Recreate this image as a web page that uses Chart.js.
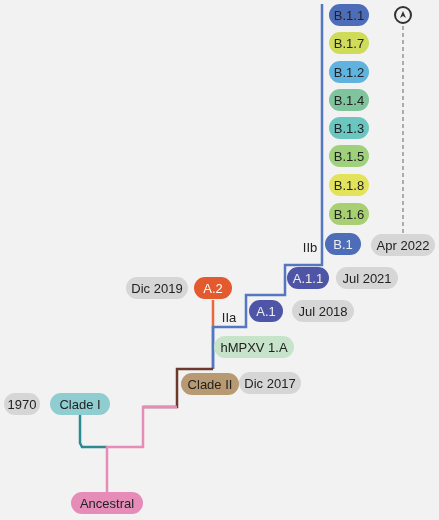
<!DOCTYPE html>
<html><head><meta charset="utf-8">
<script src="https://cdn.jsdelivr.net/npm/chart.js@4/dist/chart.umd.min.js"></script>
<style>html,body{margin:0;background:#f2f2f2}#wrap{width:439px;height:520px}</style>
</head><body><div id="wrap"><canvas id="chart"></canvas></div>
<script>
// ramas: [color, puntos x, puntos y]
const ramaColores = ["#e58cb8", "#2a8a90", "#6b3a2c", "#5577c0", "#e8683a", "#5577c0"];
const ramaX = [[107,107,143,143,177], [107,82,80,80], [143,177,177,213], [213,213,246,246,285,285,322,322], [213,213], [213,213]];
const ramaY = [[492,447,447,407,407], [447,447,443,415], [407,407,369,369], [369,327,327,295,295,265,265,4], [327,300], [369,327]];

// nodos
const nodos = ["Ancestral","Clade I","1970","Clade II","Dic 2017","hMPXV 1.A","A.2","Dic 2019","A.1","Jul 2018","A.1.1","Jul 2021","B.1","Apr 2022","B.1.6","B.1.8","B.1.5","B.1.3","B.1.4","B.1.2","B.1.7","B.1.1"];
const nodoX = [107,80,22,210,270,254,213,157,266,323,308,367,343,403,349,349,349,349,349,349,349,349];
const nodoY = [503,404,404,384,383,347,288,288,311,311,278,278,244,245,214,185,156,128,100,72,43,15];
const nodoAncho = [72,60,36,58,62,80,38,62,34,62,42,62,36,64,40,40,40,40,40,40,40,40];
const nodoColor = ["#e58cb8","#8fcdd0","#d6d6d6","#b89a72","#d6d6d6","#c7e3c9","#e25a2e","#d6d6d6","#4f55a6","#d6d6d6","#4f55a6","#d6d6d6","#4d6db8","#d6d6d6","#a8cf72","#e2e35a","#9fd07c","#6cc6c0","#7fc49c","#5fb3de","#cfdc5a","#4d6db8"];
const nodoTexto = ["#222","#222","#222","#222","#222","#222","#fff","#222","#eee","#222","#eee","#222","#eee","#222","#222","#222","#222","#222","#222","#222","#222","#222"];
const etiquetas = ["IIa","IIb"];
const etiquetaX = [229,310];
const etiquetaY = [318,248];

const datasets = ramaX.map((xs, i) => ({
  data: xs.map((x, j) => ({x: x, y: ramaY[i][j]})),
  borderColor: ramaColores[i], borderWidth: 2.5, pointRadius: 0, showLine: true, fill: false
}));
datasets.push({
  data: [{x: 403, y: 233}, {x: 403, y: 25}],
  borderColor: "#666", borderWidth: 1, borderDash: [4, 3], pointRadius: 0, showLine: true
});

const nodosPlugin = {
  id: "nodos",
  afterDatasetsDraw(c) {
    const ctx = c.ctx, sx = c.scales.x, sy = c.scales.y;
    ctx.save();
    ctx.font = "13px 'Liberation Sans', Arial, sans-serif";
    ctx.textAlign = "center"; ctx.textBaseline = "middle";
    nodos.forEach((t, i) => {
      const cx = sx.getPixelForValue(nodoX[i]), cy = sy.getPixelForValue(nodoY[i]);
      const w = nodoAncho[i], h = 22;
      ctx.fillStyle = nodoColor[i];
      ctx.beginPath();
      ctx.roundRect(cx - w / 2, cy - h / 2, w, h, 11);
      ctx.fill();
      ctx.fillStyle = nodoTexto[i];
      ctx.fillText(t, cx, cy + 1);
    });
    ctx.fillStyle = "#222";
    etiquetas.forEach((t, i) => ctx.fillText(t, sx.getPixelForValue(etiquetaX[i]), sy.getPixelForValue(etiquetaY[i])));
    // circulo con flecha
    const ax = sx.getPixelForValue(403), ay = sy.getPixelForValue(15);
    ctx.strokeStyle = "#333"; ctx.lineWidth = 2;
    ctx.beginPath(); ctx.arc(ax, ay, 8, 0, Math.PI * 2); ctx.stroke();
    ctx.fillStyle = "#333";
    ctx.beginPath(); ctx.moveTo(ax, ay - 4); ctx.lineTo(ax + 3, ay + 3); ctx.lineTo(ax, ay + 1); ctx.lineTo(ax - 3, ay + 3); ctx.closePath(); ctx.fill();
    ctx.restore();
  }
};

new Chart(document.getElementById("chart"), {
  type: "scatter",
  data: { datasets: datasets },
  options: {
    responsive: true, maintainAspectRatio: false, animation: false,
    layout: { padding: 0 },
    plugins: { legend: { display: false }, tooltip: { enabled: false } },
    scales: {
      x: { type: "linear", min: 0, max: 439, display: false },
      y: { type: "linear", min: 0, max: 520, reverse: true, display: false }
    }
  },
  plugins: [nodosPlugin]
});
</script></body></html>
